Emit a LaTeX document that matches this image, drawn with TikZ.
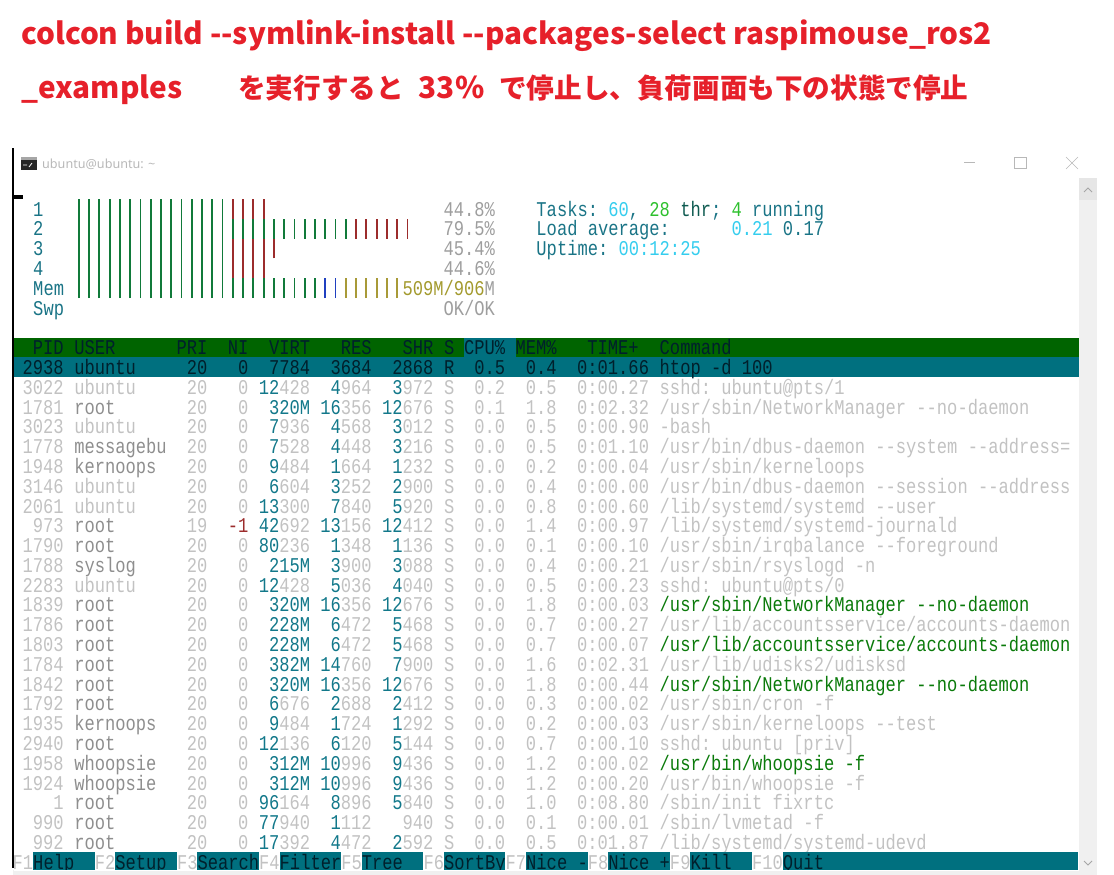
\documentclass[tikz,border=0pt]{standalone}
\usepackage{fontspec}
\usepackage{xcolor}
\newfontfamily\termfont[Ligatures=TeXOff,FakeStretch=0.815]{Liberation Mono}
\newfontfamily\headfont[Ligatures=TeXOff]{Noto Sans CJK JP}
\newfontfamily\winfont{Noto Sans}
\definecolor{titlered}{HTML}{E6202A}
\definecolor{barhead}{HTML}{006400}
\definecolor{barteal}{HTML}{00707F}
\definecolor{hltxt}{HTML}{00202C}
\definecolor{dimtxt}{HTML}{C2C2C2}
\definecolor{usertxt}{HTML}{8E8E8E}
\definecolor{numteal}{HTML}{12788A}
\definecolor{cmdgreen}{HTML}{0A7A0A}
\definecolor{pcttxt}{HTML}{9E9E9E}
\definecolor{oltxt}{HTML}{A39A2E}
\definecolor{lblteal}{HTML}{1A7486}
\definecolor{thrteal}{HTML}{0E5A50}
\definecolor{cyantxt}{HTML}{35CDEE}
\definecolor{limetxt}{HTML}{2EC02E}
\definecolor{tickgrn}{HTML}{117A3A}
\definecolor{tickred}{HTML}{9C2C2C}
\definecolor{tickblu}{HTML}{2040C0}
\definecolor{tickyel}{HTML}{A89A38}
\definecolor{scrollgrey}{HTML}{F0F0F0}
\definecolor{scrollcell}{HTML}{E6E6E6}
\definecolor{wingrey}{HTML}{B8B8B8}
\newcommand\colw{10.27}
\newcommand\colx{12.5}
\newcommand\rowh{19.79}
\newcommand\rowbase{374.5}
\newcommand\h[1]{\textcolor{numteal}{#1}}
\newcommand\dk[1]{\textcolor{usertxt}{#1}}
\newcommand\gn[1]{\textcolor{cmdgreen}{#1}}
\tikzset{
  term/.style={font=\termfont\frenchspacing\fontsize{21}{21}\selectfont,inner sep=0pt},
  title/.style={font=\headfont\bfseries\fontsize{29.75}{30}\selectfont,inner sep=0pt,anchor=base west,text=titlered},
  tick/.style={line width=1.8pt}
}

\begin{document}
\begin{tikzpicture}[x=1pt,y=-1pt]
\useasboundingbox (0,0) rectangle (1114,875);

% the red note above the screenshot
\node[title] (note1) at (21,45) {colcon build --symlink-install --packages-select raspimouse\_ros2};
\node[title] (note2) at (21,99) {\_examples};
\node[title,font=\headfont\bfseries\fontsize{27.6}{28}\selectfont] (note3) at (238,99)
  {を実行すると\hspace{15pt}{\fontsize{29.75}{30}\selectfont 33\%}\hspace{15pt}で停止し、負荷画面も下の状態で停止};

% window frame
\fill[scrollgrey] (1079,178) rectangle (1097,875);
\fill[scrollcell] (1079,178) rectangle (1097,200);
\fill[scrollgrey] (13,870) rectangle (1097,875);
\draw[black,line width=2pt] (13,148) -- (13,868);
\fill[black] (13,195) rectangle (23,199);
\fill[black!85] (21,157) rectangle (37,170);
\fill[gray!70] (21,157) rectangle (37,160);
\draw[white,line width=0.8pt] (23,165) -- (27,165) (29,167) -- (32,163);
\node[font=\winfont\fontsize{12.6}{12.6}\selectfont,text=wingrey,anchor=base west,inner sep=0pt] (wintitle) at (42,168) {ubuntu@ubuntu: \textasciitilde};
\draw[wingrey] (964,162.5) -- (975,162.5);
\draw[wingrey] (1014.5,157.5) rectangle (1026,168.5);
\draw[wingrey] (1066,157) -- (1078,169) (1078,157) -- (1066,169);
\draw[gray!70,line width=1pt] (1084,192) -- (1088,188) -- (1092,192);
\draw[gray!70,line width=1pt] (1084,861) -- (1088,865) -- (1092,861);

% cpu and memory meters
\foreach \k/\tc/\a/\b in {-8/tickgrn/0/14,-8/tickred/15/18,-7/tickgrn/0/26,-7/tickred/27/32,
    -6/tickgrn/0/14,-6/tickred/15/19,-5/tickgrn/0/14,-5/tickred/15/18,
    -4/tickgrn/0/23,-4/tickblu/24/25,-4/tickyel/26/31}
  \foreach \i in {\a,...,\b}
    \draw[\tc,tick] (\i*\colw+78.8,\rowbase+\k*\rowh+2.7) -- ++(0,-\rowh);

\foreach \k/\lbl/\pct in {-8/1/44.8\%,-7/2/79.5\%,-6/3/45.4\%,-5/4/44.6\%,-3/Swp/{OK/OK}}
{
  \node[term,anchor=base west,text=lblteal] (lbl\lbl) at (\colx+2*\colw,\rowbase+\k*\rowh) {\lbl};
  \node[term,anchor=base east,text=pcttxt] (pct\lbl) at (\colx+47*\colw,\rowbase+\k*\rowh) {\pct};
}
\node[term,anchor=base west,text=lblteal] (lblMem) at (\colx+2*\colw,\rowbase-4*\rowh) {Mem};
\node[term,anchor=base east,text=oltxt] (pctMem) at (\colx+47*\colw,\rowbase-4*\rowh) {509M/906\textcolor{pcttxt}{M}};

% tasks panel
\node[term,anchor=base west,text=lblteal] (tasks) at (\colx+51*\colw,\rowbase-8*\rowh)
  {Tasks:~\textcolor{cyantxt}{60},~\textcolor{limetxt}{28}~\textcolor{thrteal}{thr};~\textcolor{limetxt}{4}~running};
\node[term,anchor=base west,text=lblteal] (load) at (\colx+51*\colw,\rowbase-7*\rowh)
  {Load~average:~~~~~~\textcolor{cyantxt}{0.21}~0.17};
\node[term,anchor=base west,text=lblteal] (uptime) at (\colx+51*\colw,\rowbase-6*\rowh)
  {Uptime:~\textcolor{cyantxt}{00:12:25}};

% column header and selected row
\fill[barhead] (14,\rowbase-\rowh-17.2) rectangle (1079,\rowbase-\rowh+2.6);
\fill[barteal] (\colx+44*\colw,\rowbase-\rowh-17.2) rectangle (\colx+49*\colw,\rowbase-\rowh+2.6);
\fill[barteal] (14,\rowbase-17.2) rectangle (1079,\rowbase+2.6);
\foreach \k/\lbl/\anc in {5/PID/east,6/USER/west,19/PRI/east,23/NI/east,29/VIRT/east,35/RES/east,
    41/SHR/east,42/S/west,48/CPU\%/east,53/MEM\%/east,61/TIME+/east,63/Command/west}
  \node[term,anchor=base \anc,text=hltxt] (hd\k) at (\colx+\k*\colw,\rowbase-\rowh) {\lbl};

% process rows
\foreach \pid/\usr/\pri/\nic/\virt/\res/\shr/\st/\cpu/\mem/\tplus/\cmd [count=\rr from 0] in {
  2938/ubuntu/20/0/7784/3684/2868/R/0.5/0.4/0:01.66/htop -d 100,
  3022/ubuntu/20/0/\h{12}428/\h{4}964/\h{3}972/S/0.2/0.5/0:00.27/{sshd: ubuntu@pts/1},
  1781/\dk{root}/20/0/\h{320M}/\h{16}356/\h{12}676/S/0.1/1.8/0:02.32/{/usr/sbin/NetworkManager --no-daemon},
  3023/ubuntu/20/0/\h{7}936/\h{4}568/\h{3}012/S/0.0/0.5/0:00.90/-bash,
  1778/\dk{messagebu}/20/0/\h{7}528/\h{4}448/\h{3}216/S/0.0/0.5/0:01.10/{/usr/bin/dbus-daemon --system --address=},
  1948/\dk{kernoops}/20/0/\h{9}484/\h{1}664/\h{1}232/S/0.0/0.2/0:00.04/{/usr/sbin/kerneloops},
  3146/ubuntu/20/0/\h{6}604/\h{3}252/\h{2}900/S/0.0/0.4/0:00.00/{/usr/bin/dbus-daemon --session --address},
  2061/ubuntu/20/0/\h{13}300/\h{7}840/\h{5}920/S/0.0/0.8/0:00.60/{/lib/systemd/systemd --user},
  973/\dk{root}/19/\textcolor{tickred}{-1}/\h{42}692/\h{13}156/\h{12}412/S/0.0/1.4/0:00.97/{/lib/systemd/systemd-journald},
  1790/\dk{root}/20/0/\h{80}236/\h{1}348/\h{1}136/S/0.0/0.1/0:00.10/{/usr/sbin/irqbalance --foreground},
  1788/\dk{syslog}/20/0/\h{215M}/\h{3}900/\h{3}088/S/0.0/0.4/0:00.21/{/usr/sbin/rsyslogd -n},
  2283/ubuntu/20/0/\h{12}428/\h{5}036/\h{4}040/S/0.0/0.5/0:00.23/{sshd: ubuntu@pts/0},
  1839/\dk{root}/20/0/\h{320M}/\h{16}356/\h{12}676/S/0.0/1.8/0:00.03/\gn{/usr/sbin/NetworkManager --no-daemon},
  1786/\dk{root}/20/0/\h{228M}/\h{6}472/\h{5}468/S/0.0/0.7/0:00.27/{/usr/lib/accountsservice/accounts-daemon},
  1803/\dk{root}/20/0/\h{228M}/\h{6}472/\h{5}468/S/0.0/0.7/0:00.07/\gn{/usr/lib/accountsservice/accounts-daemon},
  1784/\dk{root}/20/0/\h{382M}/\h{14}760/\h{7}900/S/0.0/1.6/0:02.31/{/usr/lib/udisks2/udisksd},
  1842/\dk{root}/20/0/\h{320M}/\h{16}356/\h{12}676/S/0.0/1.8/0:00.44/\gn{/usr/sbin/NetworkManager --no-daemon},
  1792/\dk{root}/20/0/\h{6}676/\h{2}688/\h{2}412/S/0.0/0.3/0:00.02/{/usr/sbin/cron -f},
  1935/\dk{kernoops}/20/0/\h{9}484/\h{1}724/\h{1}292/S/0.0/0.2/0:00.03/{/usr/sbin/kerneloops --test},
  2940/\dk{root}/20/0/\h{12}136/\h{6}120/\h{5}144/S/0.0/0.7/0:00.10/sshd: ubuntu [priv],
  1958/\dk{whoopsie}/20/0/\h{312M}/\h{10}996/\h{9}436/S/0.0/1.2/0:00.02/\gn{/usr/bin/whoopsie -f},
  1924/\dk{whoopsie}/20/0/\h{312M}/\h{10}996/\h{9}436/S/0.0/1.2/0:00.20/{/usr/bin/whoopsie -f},
  1/\dk{root}/20/0/\h{96}164/\h{8}896/\h{5}840/S/0.0/1.0/0:08.80/{/sbin/init fixrtc},
  990/\dk{root}/20/0/\h{77}940/\h{1}112/940/S/0.0/0.1/0:00.01/{/sbin/lvmetad -f},
  992/\dk{root}/20/0/\h{17}392/\h{4}472/\h{2}592/S/0.0/0.5/0:01.87/{/lib/systemd/systemd-udevd}}
{
  \ifnum\rr=0 \def\rc{hltxt}\else\def\rc{dimtxt}\fi
  \pgfmathsetmacro\y{\rowbase+\rr*\rowh}
  \node[term,anchor=base east,text=\rc] (pid\rr) at (\colx+5*\colw,\y) {\pid};
  \node[term,anchor=base west,text=\rc] (usr\rr) at (\colx+6*\colw,\y) {\usr};
  \node[term,anchor=base east,text=\rc] (pri\rr) at (\colx+19*\colw,\y) {\pri};
  \node[term,anchor=base east,text=\rc] (nic\rr) at (\colx+23*\colw,\y) {\nic};
  \node[term,anchor=base east,text=\rc] (virt\rr) at (\colx+29*\colw,\y) {\virt};
  \node[term,anchor=base east,text=\rc] (res\rr) at (\colx+35*\colw,\y) {\res};
  \node[term,anchor=base east,text=\rc] (shr\rr) at (\colx+41*\colw,\y) {\shr};
  \node[term,anchor=base west,text=\rc] (st\rr) at (\colx+42*\colw,\y) {\st};
  \node[term,anchor=base east,text=\rc] (cpu\rr) at (\colx+48*\colw,\y) {\cpu};
  \node[term,anchor=base east,text=\rc] (mem\rr) at (\colx+53*\colw,\y) {\mem};
  \node[term,anchor=base east,text=\rc] (tim\rr) at (\colx+62*\colw,\y) {\tplus};
  \node[term,anchor=base west,text=\rc] (cmd\rr) at (\colx+63*\colw,\y) {\cmd};
}

% function key bar
\fill[barteal] (\colx+75*\colw,852) rectangle (1078,869.5);
\foreach \n/\fk/\lbl in {0/F1/Help,8/F2/Setup,16/F3/Search,24/F4/Filter,32/F5/Tree,
    40/F6/SortBy,48/F7/Nice -,56/F8/Nice +,64/F9/Kill}
{
  \fill[barteal] (\colx+\n*\colw+2*\colw,852) rectangle (\colx+\n*\colw+8*\colw,869.5);
  \node[term,anchor=base west,text=dimtxt] (key\fk) at (\colx+\n*\colw,869) {\fk};
  \node[term,anchor=base west,text=hltxt] (act\fk) at (\colx+\n*\colw+2*\colw,869) {\lbl};
}
\node[term,anchor=base west,text=dimtxt] (keyF10) at (\colx+72*\colw,869) {F10};
\node[term,anchor=base west,text=hltxt] (actF10) at (\colx+75*\colw,869) {Quit};
% cut the last row off as the window does
\fill[white] (14,869.5) rectangle (1079,871);
\fill[scrollgrey] (14,871) rectangle (1079,875);
\end{tikzpicture}
\end{document}
